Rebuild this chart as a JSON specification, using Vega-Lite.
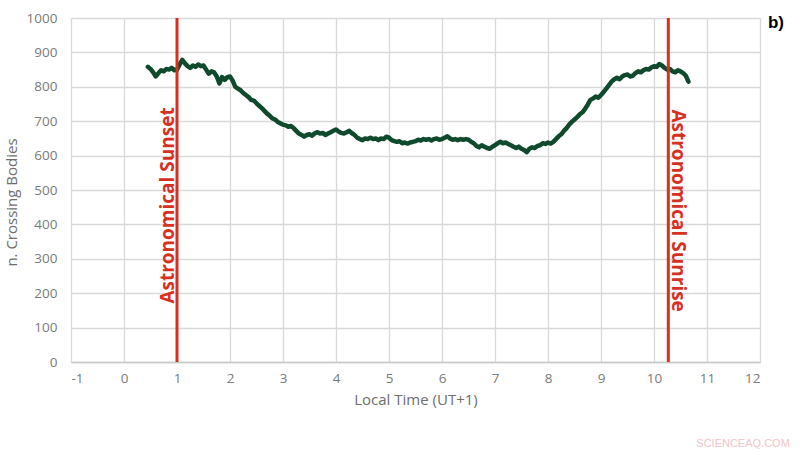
{
  "$schema": "https://vega.github.io/schema/vega-lite/v6.json",
  "width": 689,
  "height": 344,
  "autosize": {"type": "none"},
  "padding": {"left": 71, "top": 18, "right": 40, "bottom": 91},
  "background": "white",
  "config": {
    "view": {"stroke": null},
    "font": "Open Sans",
    "axis": {"labelFont": "Open Sans", "titleFont": "Open Sans", "labelColor": "#7a7a7a", "titleColor": "#6e6e6e", "labelFontSize": 13.5, "titleFontSize": 15, "titleFontWeight": "normal", "gridColor": "#d9d9d9", "gridWidth": 1.3, "ticks": false}
  },
  "datasets": {
    "curve": [
      {"t": 0.45, "n": 858}, {"t": 0.5, "n": 852}, {"t": 0.55, "n": 842}, {"t": 0.6, "n": 830}, {"t": 0.65, "n": 840},
      {"t": 0.7, "n": 848}, {"t": 0.75, "n": 845}, {"t": 0.8, "n": 852}, {"t": 0.85, "n": 850}, {"t": 0.9, "n": 855},
      {"t": 0.95, "n": 848}, {"t": 1.0, "n": 850}, {"t": 1.05, "n": 865}, {"t": 1.1, "n": 878}, {"t": 1.15, "n": 868},
      {"t": 1.2, "n": 860}, {"t": 1.25, "n": 855}, {"t": 1.3, "n": 862}, {"t": 1.35, "n": 858}, {"t": 1.4, "n": 865},
      {"t": 1.45, "n": 860}, {"t": 1.5, "n": 862}, {"t": 1.55, "n": 850}, {"t": 1.6, "n": 838}, {"t": 1.65, "n": 845},
      {"t": 1.7, "n": 842}, {"t": 1.75, "n": 830}, {"t": 1.8, "n": 810}, {"t": 1.85, "n": 828}, {"t": 1.9, "n": 820},
      {"t": 1.95, "n": 828}, {"t": 2.0, "n": 830}, {"t": 2.05, "n": 818}, {"t": 2.1, "n": 800}, {"t": 2.15, "n": 795},
      {"t": 2.2, "n": 790}, {"t": 2.25, "n": 782}, {"t": 2.3, "n": 776}, {"t": 2.35, "n": 770}, {"t": 2.4, "n": 762},
      {"t": 2.45, "n": 760}, {"t": 2.5, "n": 752}, {"t": 2.55, "n": 745}, {"t": 2.6, "n": 738}, {"t": 2.65, "n": 730},
      {"t": 2.7, "n": 722}, {"t": 2.75, "n": 716}, {"t": 2.8, "n": 708}, {"t": 2.85, "n": 705}, {"t": 2.9, "n": 698},
      {"t": 2.95, "n": 694}, {"t": 3.0, "n": 690}, {"t": 3.05, "n": 688}, {"t": 3.1, "n": 684}, {"t": 3.15, "n": 686},
      {"t": 3.2, "n": 680}, {"t": 3.25, "n": 672}, {"t": 3.3, "n": 664}, {"t": 3.35, "n": 660}, {"t": 3.4, "n": 655},
      {"t": 3.45, "n": 660}, {"t": 3.5, "n": 662}, {"t": 3.55, "n": 658}, {"t": 3.6, "n": 665}, {"t": 3.65, "n": 668},
      {"t": 3.7, "n": 664}, {"t": 3.75, "n": 666}, {"t": 3.8, "n": 660}, {"t": 3.85, "n": 664}, {"t": 3.9, "n": 668},
      {"t": 3.95, "n": 672}, {"t": 4.0, "n": 676}, {"t": 4.05, "n": 670}, {"t": 4.1, "n": 666}, {"t": 4.15, "n": 664},
      {"t": 4.2, "n": 668}, {"t": 4.25, "n": 672}, {"t": 4.3, "n": 665}, {"t": 4.35, "n": 660}, {"t": 4.4, "n": 652},
      {"t": 4.45, "n": 648}, {"t": 4.5, "n": 645}, {"t": 4.55, "n": 650}, {"t": 4.6, "n": 648}, {"t": 4.65, "n": 652},
      {"t": 4.7, "n": 648}, {"t": 4.75, "n": 650}, {"t": 4.8, "n": 645}, {"t": 4.85, "n": 650}, {"t": 4.9, "n": 648},
      {"t": 4.95, "n": 655}, {"t": 5.0, "n": 652}, {"t": 5.05, "n": 645}, {"t": 5.1, "n": 642}, {"t": 5.15, "n": 640},
      {"t": 5.2, "n": 642}, {"t": 5.25, "n": 636}, {"t": 5.3, "n": 638}, {"t": 5.35, "n": 635}, {"t": 5.4, "n": 638},
      {"t": 5.45, "n": 640}, {"t": 5.5, "n": 642}, {"t": 5.55, "n": 646}, {"t": 5.6, "n": 644}, {"t": 5.65, "n": 648},
      {"t": 5.7, "n": 646}, {"t": 5.75, "n": 648}, {"t": 5.8, "n": 644}, {"t": 5.85, "n": 648}, {"t": 5.9, "n": 650},
      {"t": 5.95, "n": 646}, {"t": 6.0, "n": 648}, {"t": 6.05, "n": 652}, {"t": 6.1, "n": 656}, {"t": 6.15, "n": 650},
      {"t": 6.2, "n": 646}, {"t": 6.25, "n": 648}, {"t": 6.3, "n": 645}, {"t": 6.35, "n": 648}, {"t": 6.4, "n": 646},
      {"t": 6.45, "n": 648}, {"t": 6.5, "n": 646}, {"t": 6.55, "n": 640}, {"t": 6.6, "n": 636}, {"t": 6.65, "n": 628},
      {"t": 6.7, "n": 624}, {"t": 6.75, "n": 630}, {"t": 6.8, "n": 626}, {"t": 6.85, "n": 622}, {"t": 6.9, "n": 620},
      {"t": 6.95, "n": 626}, {"t": 7.0, "n": 630}, {"t": 7.05, "n": 636}, {"t": 7.1, "n": 640}, {"t": 7.15, "n": 636},
      {"t": 7.2, "n": 638}, {"t": 7.25, "n": 634}, {"t": 7.3, "n": 630}, {"t": 7.35, "n": 626}, {"t": 7.4, "n": 622},
      {"t": 7.45, "n": 626}, {"t": 7.5, "n": 620}, {"t": 7.55, "n": 616}, {"t": 7.6, "n": 610}, {"t": 7.65, "n": 620},
      {"t": 7.7, "n": 624}, {"t": 7.75, "n": 622}, {"t": 7.8, "n": 628}, {"t": 7.85, "n": 630}, {"t": 7.9, "n": 636},
      {"t": 7.95, "n": 634}, {"t": 8.0, "n": 638}, {"t": 8.05, "n": 635}, {"t": 8.1, "n": 640}, {"t": 8.15, "n": 648},
      {"t": 8.2, "n": 656}, {"t": 8.25, "n": 662}, {"t": 8.3, "n": 672}, {"t": 8.35, "n": 680}, {"t": 8.4, "n": 690},
      {"t": 8.45, "n": 698}, {"t": 8.5, "n": 705}, {"t": 8.55, "n": 712}, {"t": 8.6, "n": 720}, {"t": 8.65, "n": 726},
      {"t": 8.7, "n": 736}, {"t": 8.75, "n": 748}, {"t": 8.8, "n": 762}, {"t": 8.85, "n": 766}, {"t": 8.9, "n": 772},
      {"t": 8.95, "n": 768}, {"t": 9.0, "n": 776}, {"t": 9.05, "n": 785}, {"t": 9.1, "n": 795}, {"t": 9.15, "n": 805},
      {"t": 9.2, "n": 815}, {"t": 9.25, "n": 822}, {"t": 9.3, "n": 826}, {"t": 9.35, "n": 822}, {"t": 9.4, "n": 830},
      {"t": 9.45, "n": 834}, {"t": 9.5, "n": 836}, {"t": 9.55, "n": 830}, {"t": 9.6, "n": 832}, {"t": 9.65, "n": 840},
      {"t": 9.7, "n": 845}, {"t": 9.75, "n": 842}, {"t": 9.8, "n": 848}, {"t": 9.85, "n": 852}, {"t": 9.9, "n": 850},
      {"t": 9.95, "n": 856}, {"t": 10.0, "n": 860}, {"t": 10.05, "n": 858}, {"t": 10.1, "n": 866}, {"t": 10.15, "n": 862},
      {"t": 10.2, "n": 855}, {"t": 10.25, "n": 850}, {"t": 10.3, "n": 852}, {"t": 10.35, "n": 845}, {"t": 10.4, "n": 842},
      {"t": 10.45, "n": 848}, {"t": 10.5, "n": 845}, {"t": 10.55, "n": 840}, {"t": 10.6, "n": 832}, {"t": 10.65, "n": 815}
    ],
    "events": [
      {"t": 1.0, "label": "Astronomical Sunset", "n": 455},
      {"t": 10.27, "label": "Astronomical Sunrise", "n": 440}
    ],
    "notes": [
      {"t": 12.3, "n": 986, "label": "b)", "kind": "panel"},
      {"t": 11.68, "n": -238, "label": "SCIENCEAQ.COM", "kind": "mark"}
    ]
  },
  "layer": [
    {
      "data": {"name": "curve"},
      "mark": {"type": "line", "color": "#0f4a2c", "strokeWidth": 4.5, "strokeJoin": "round", "strokeCap": "round"},
      "encoding": {
        "x": {"field": "t", "type": "quantitative", "scale": {"domain": [-1, 12], "nice": false, "zero": false},
          "axis": {"title": "Local Time (UT+1)", "values": [-1,0,1,2,3,4,5,6,7,8,9,10,11,12], "labelExpr": "toString(datum.value)", "labelPadding": 9, "titlePadding": 8, "domainColor": "#c8c8c8", "domainWidth": 1.5}},
        "y": {"field": "n", "type": "quantitative", "scale": {"domain": [0, 1000], "nice": false},
          "axis": {"title": "n. Crossing Bodies", "values": [0,100,200,300,400,500,600,700,800,900,1000], "labelExpr": "toString(datum.value)", "labelOverlap": false, "labelPadding": 14, "titleX": -52, "titleY": 184, "domain": false}}
      }
    },
    {
      "data": {"name": "events"},
      "mark": {"type": "rule", "color": "#d7301f", "strokeWidth": 3},
      "encoding": {"x": {"field": "t", "type": "quantitative",
          "axis": {"title": "Local Time (UT+1)", "values": [-1,0,1,2,3,4,5,6,7,8,9,10,11,12], "labelExpr": "toString(datum.value)", "labelPadding": 9, "titlePadding": 8, "domainColor": "#c8c8c8", "domainWidth": 1.5}}}
    },
    {
      "data": {"name": "events"},
      "transform": [{"filter": "datum.t < 5"}],
      "mark": {"type": "text", "color": "#d7301f", "fontWeight": "bold", "fontSize": 19, "angle": 270, "dy": -9, "font": "Open Sans"},
      "encoding": {
        "x": {"field": "t", "type": "quantitative",
          "axis": {"title": "Local Time (UT+1)", "values": [-1,0,1,2,3,4,5,6,7,8,9,10,11,12], "labelExpr": "toString(datum.value)", "labelPadding": 9, "titlePadding": 8, "domainColor": "#c8c8c8", "domainWidth": 1.5}},
        "y": {"field": "n", "type": "quantitative",
          "axis": {"title": "n. Crossing Bodies", "values": [0,100,200,300,400,500,600,700,800,900,1000], "labelExpr": "toString(datum.value)", "labelOverlap": false, "labelPadding": 14, "titleX": -52, "titleY": 184, "domain": false}},
        "text": {"field": "label"}}
    },
    {
      "data": {"name": "events"},
      "transform": [{"filter": "datum.t > 5"}],
      "mark": {"type": "text", "color": "#d7301f", "fontWeight": "bold", "fontSize": 19, "angle": 90, "dy": -10, "font": "Open Sans"},
      "encoding": {
        "x": {"field": "t", "type": "quantitative",
          "axis": {"title": "Local Time (UT+1)", "values": [-1,0,1,2,3,4,5,6,7,8,9,10,11,12], "labelExpr": "toString(datum.value)", "labelPadding": 9, "titlePadding": 8, "domainColor": "#c8c8c8", "domainWidth": 1.5}},
        "y": {"field": "n", "type": "quantitative",
          "axis": {"title": "n. Crossing Bodies", "values": [0,100,200,300,400,500,600,700,800,900,1000], "labelExpr": "toString(datum.value)", "labelOverlap": false, "labelPadding": 14, "titleX": -52, "titleY": 184, "domain": false}},
        "text": {"field": "label"}}
    },
    {
      "data": {"name": "notes"},
      "transform": [{"filter": "datum.kind == 'mark'"}],
      "mark": {"type": "text", "clip": false, "fontSize": 11, "color": "#f3c4c8", "font": "Liberation Sans"},
      "encoding": {
        "x": {"field": "t", "type": "quantitative",
          "axis": {"title": "Local Time (UT+1)", "values": [-1,0,1,2,3,4,5,6,7,8,9,10,11,12], "labelExpr": "toString(datum.value)", "labelPadding": 9, "titlePadding": 8, "domainColor": "#c8c8c8", "domainWidth": 1.5}},
        "y": {"field": "n", "type": "quantitative",
          "axis": {"title": "n. Crossing Bodies", "values": [0,100,200,300,400,500,600,700,800,900,1000], "labelExpr": "toString(datum.value)", "labelOverlap": false, "labelPadding": 14, "titleX": -52, "titleY": 184, "domain": false}},
        "text": {"field": "label"}
      }
    },
    {
      "data": {"name": "notes"},
      "transform": [{"filter": "datum.kind == 'panel'"}],
      "mark": {"type": "text", "clip": false, "fontWeight": "bold", "fontSize": 17, "color": "#000000", "font": "Liberation Sans"},
      "encoding": {
        "x": {"field": "t", "type": "quantitative",
          "axis": {"title": "Local Time (UT+1)", "values": [-1,0,1,2,3,4,5,6,7,8,9,10,11,12], "labelExpr": "toString(datum.value)", "labelPadding": 9, "titlePadding": 8, "domainColor": "#c8c8c8", "domainWidth": 1.5}},
        "y": {"field": "n", "type": "quantitative",
          "axis": {"title": "n. Crossing Bodies", "values": [0,100,200,300,400,500,600,700,800,900,1000], "labelExpr": "toString(datum.value)", "labelOverlap": false, "labelPadding": 14, "titleX": -52, "titleY": 184, "domain": false}},
        "text": {"field": "label"}
      }
    }
  ]
}
